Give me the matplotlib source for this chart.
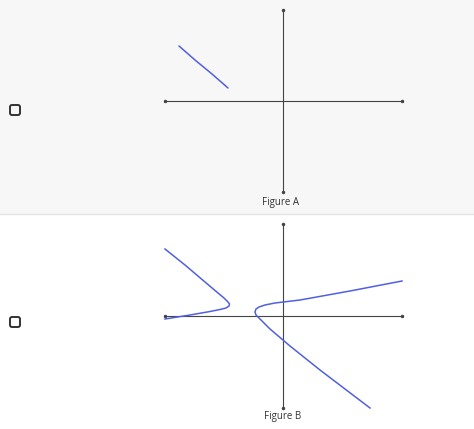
import matplotlib.pyplot as plt
from matplotlib.patches import Rectangle, FancyBboxPatch

# figure A curve (pixel coords)
a_x = [179, 195, 212, 228]
a_y = [46, 60, 74, 88]

# figure B branches
bl_x = [165, 185, 205, 218, 224, 228, 229.5, 229, 226, 220, 210, 190, 165]
bl_y = [249, 265, 282, 293, 298, 302, 304, 306, 308, 309.5, 311.5, 315, 319]
br_x = [402, 350, 300, 275, 265, 259, 256, 255, 256, 260, 270, 290, 320, 345, 370]
br_y = [281, 291, 300, 303, 305, 307, 309, 312, 315, 319, 329, 346, 370, 389, 408]

fig = plt.figure(figsize=(4.74, 4.29), dpi=100)
ax = fig.add_axes([0, 0, 1, 1])
ax.set_xlim(0, 474)
ax.set_ylim(429, 0)
ax.axis('off')

ax.add_patch(Rectangle((0, 0), 474, 213, color='#f7f7f7', zorder=0))
ax.plot([0, 474], [213.5, 213.5], color='#e4e4e4', lw=1)

def axes_cross(yc, top, bottom):
    ax.plot([165, 402], [yc, yc], color='#444444', lw=0.8)
    ax.plot([283, 283], [top, bottom], color='#444444', lw=0.8)
    for x, y in [(165, yc), (402, yc), (283, top), (283, bottom)]:
        ax.plot(x, y, marker='o', ms=1.5, color='#444444')

axes_cross(101, 10, 192)
axes_cross(316, 224, 408)

ax.plot(a_x, a_y, color='#5060e0', lw=1.1, solid_capstyle='round')
ax.plot(bl_x, bl_y, color='#5060e0', lw=1.1, solid_joinstyle='round')
ax.plot(br_x, br_y, color='#5060e0', lw=1.1, solid_joinstyle='round')

for cy in [110, 322]:
    ax.add_patch(FancyBboxPatch((10, cy - 5), 10, 10, boxstyle='round,pad=0,rounding_size=2',
                                fill=False, ec='#333333', lw=1.4))

ax.text(281, 202, 'Figure A', ha='center', va='center', fontsize=7, family='Open Sans', color='#333333')
ax.text(283, 416, 'Figure B', ha='center', va='center', fontsize=7, family='Open Sans', color='#333333')

fig.savefig('out.png', dpi=100)
